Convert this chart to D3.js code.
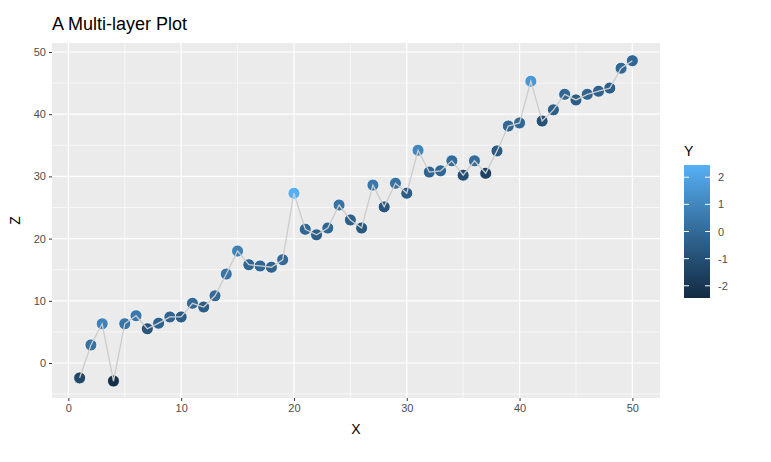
<!DOCTYPE html><html><head><meta charset="utf-8"><script src="https://cdn.jsdelivr.net/npm/d3@7"></script>
<style>body{margin:0;background:#fff;font-family:"Liberation Sans",Arial,sans-serif}</style></head><body><svg id="c" width="771" height="462"></svg><script>
const xs=d3.range(1,51);
const zs=[-2.4,2.9,6.3,-2.9,6.3,7.6,5.5,6.4,7.4,7.4,9.6,9.0,10.8,14.3,18.0,15.8,15.6,15.4,16.6,27.3,21.5,20.6,21.7,25.4,23.0,21.7,28.6,25.1,28.9,27.3,34.2,30.7,30.9,32.5,30.2,32.5,30.5,34.1,38.1,38.6,45.3,38.9,40.7,43.2,42.3,43.2,43.7,44.2,47.4,48.6];
const ys=[-1.3,0.3,0.9,-2.3,0.4,0.5,-0.8,-0.3,-0.2,-0.5,0,-0.5,0,0.4,0.8,-0.2,-0.1,-0.3,0,2.4,-0.1,-0.4,-0.1,0.4,-0.4,-0.7,0.5,-0.8,0.3,-0.5,1.0,-0.2,-0.1,0.1,-1.0,0.1,-1.5,-0.6,-0.1,-0.1,1.6,-0.9,-0.4,-0.1,-0.5,-0.2,-0.3,-0.4,-0.1,-0.1];
const xTicks=[0,10,20,30,40,50], zTicks=[0,10,20,30,40,50], yTicks=[-2,-1,0,1,2];
const svg=d3.select("#c");
const L=52,R=660,T=43,B=398;
const x=d3.scaleLinear().domain([-1.45,52.45]).range([L,R]);
const y=d3.scaleLinear().domain([-5.63,51.45]).range([B,T]);
const yext=[-2.45,2.45];
const col=d3.scaleLinear().domain(yext).range(["#132B43","#56B1F7"]).interpolate(d3.interpolateLab);
svg.append("rect").attr("x",L).attr("y",T).attr("width",R-L).attr("height",B-T).attr("fill","#EBEBEB");
const minor=a=>a.slice(0,-1).map((v,i)=>(v+a[i+1])/2).concat([a[0]-5,a[a.length-1]+5]);
minor(xTicks).filter(v=>x(v)>L&&x(v)<R).forEach(v=>svg.append("line").attr("x1",x(v)).attr("x2",x(v)).attr("y1",T).attr("y2",B).attr("stroke","#fff").attr("stroke-width",0.6));
minor(zTicks).filter(v=>y(v)>T&&y(v)<B).forEach(v=>svg.append("line").attr("y1",y(v)).attr("y2",y(v)).attr("x1",L).attr("x2",R).attr("stroke","#fff").attr("stroke-width",0.6));
xTicks.forEach(v=>svg.append("line").attr("x1",x(v)).attr("x2",x(v)).attr("y1",T).attr("y2",B).attr("stroke","#fff").attr("stroke-width",1.2));
zTicks.forEach(v=>svg.append("line").attr("y1",y(v)).attr("y2",y(v)).attr("x1",L).attr("x2",R).attr("stroke","#fff").attr("stroke-width",1.2));
const data=xs.map((d,i)=>({x:d,z:zs[i],y:ys[i]}));
svg.selectAll("circle.p").data(data).enter().append("circle").attr("cx",d=>x(d.x)).attr("cy",d=>y(d.z)).attr("r",6).attr("fill",d=>col(d.y)).attr("stroke","#fff").attr("stroke-width",0.8);
svg.append("path").datum(data).attr("d",d3.line().x(d=>x(d.x)).y(d=>y(d.z))).attr("fill","none").attr("stroke","#ccc").attr("stroke-width",1.3);
const gx=svg.append("g").attr("transform",`translate(0,${B})`).call(d3.axisBottom(x).tickValues(xTicks).tickSize(3).tickPadding(3));
const gy=svg.append("g").attr("transform",`translate(${L},0)`).call(d3.axisLeft(y).tickValues(zTicks).tickSize(3).tickPadding(3));
[gx,gy].forEach(g=>{g.select(".domain").remove();g.selectAll("line").attr("stroke","#333");g.selectAll("text").attr("fill","#4d4d4d").attr("font-size",11).attr("font-family","Liberation Sans, Arial");});
svg.append("text").attr("x",L).attr("y",30).attr("font-size",18).attr("fill","#000").text("A Multi-layer Plot");
svg.append("text").attr("x",(L+R)/2).attr("y",434).attr("text-anchor","middle").attr("font-size",14).text("X");
svg.append("text").attr("transform",`translate(20,${(T+B)/2}) rotate(-90)`).attr("text-anchor","middle").attr("font-size",14).text("Z");
// legend
const lx=684,lw=26,lt=165,lb=298;
svg.append("text").attr("x",lx).attr("y",156).attr("font-size",14).text("Y");
const defs=svg.append("defs").append("linearGradient").attr("id","g").attr("x1",0).attr("x2",0).attr("y1",1).attr("y2",0);
d3.range(0,1.01,0.1).forEach(t=>defs.append("stop").attr("offset",t).attr("stop-color",col(yext[0]+t*(yext[1]-yext[0]))));
svg.append("rect").attr("x",lx).attr("y",lt).attr("width",lw).attr("height",lb-lt).attr("fill","url(#g)");
const ly=d3.scaleLinear().domain(yext).range([lb,lt]);
yTicks.forEach(v=>{
 svg.append("line").attr("x1",lx).attr("x2",lx+5).attr("y1",ly(v)).attr("y2",ly(v)).attr("stroke","#fff");
 svg.append("line").attr("x1",lx+lw-5).attr("x2",lx+lw).attr("y1",ly(v)).attr("y2",ly(v)).attr("stroke","#fff");
 svg.append("text").attr("x",lx+lw+8).attr("y",ly(v)+4).attr("font-size",11).attr("fill","#4d4d4d").text(v);
});
</script></body></html>
